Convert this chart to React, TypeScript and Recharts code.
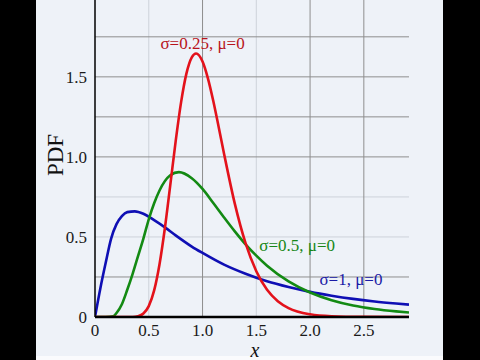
import { LineChart, Line, XAxis, YAxis, ReferenceLine, ReferenceDot } from 'recharts'

const sigma1X = [0, 0.05, 0.1, 0.15, 0.2, 0.25, 0.3, 0.37, 0.45, 0.55, 0.65, 0.75, 0.9, 1.0, 1.2, 1.4, 1.6, 1.8, 2.0, 2.2, 2.4, 2.6, 2.8, 2.92]
const sigma1Pdf = [0, 0.18, 0.34, 0.49, 0.58, 0.63, 0.655, 0.66, 0.645, 0.605, 0.56, 0.51, 0.44, 0.4, 0.327, 0.27, 0.223, 0.187, 0.157, 0.133, 0.113, 0.097, 0.084, 0.077]

const sigma05X = [0, 0.1, 0.17, 0.2, 0.25, 0.3, 0.35, 0.4, 0.45, 0.5, 0.55, 0.6, 0.7, 0.78, 0.9, 1.0, 1.1, 1.2, 1.3, 1.4, 1.5, 1.6, 1.8, 2.0, 2.2, 2.4, 2.6, 2.8, 2.92]
const sigma05Pdf = [0, 0, 0.005, 0.025, 0.08, 0.17, 0.27, 0.38, 0.49, 0.61, 0.71, 0.79, 0.885, 0.905, 0.867, 0.8, 0.712, 0.622, 0.535, 0.454, 0.383, 0.32, 0.222, 0.153, 0.105, 0.072, 0.05, 0.035, 0.028]

const sigma025X = [0, 0.35, 0.4, 0.45, 0.5, 0.55, 0.6, 0.65, 0.7, 0.75, 0.8, 0.85, 0.9, 0.94, 1.0, 1.05, 1.1, 1.15, 1.2, 1.3, 1.4, 1.5, 1.6, 1.7, 1.8, 2.0, 2.2, 2.5, 2.92]
const sigma025Pdf = [0, 0, 0.005, 0.022, 0.068, 0.166, 0.33, 0.556, 0.824, 1.097, 1.339, 1.52, 1.622, 1.646, 1.596, 1.491, 1.349, 1.187, 1.02, 0.708, 0.461, 0.286, 0.17, 0.099, 0.056, 0.017, 0.005, 0.001, 0]

const xTicks = [0, 0.5, 1, 1.5, 2, 2.5]
const yTicks = [0, 0.5, 1, 1.5]
const xGridDark = [1, 2, 2.5]
const xGridLight = [0.5, 1.5]
const yGridDark = [0.25, 1, 1.25, 1.5, 1.75]
const yGridLight = [0.5, 0.75]

const toPoints = (xs: number[], ys: number[]) => xs.map((x, i) => ({ x, y: ys[i] }))

const serif = '"Liberation Serif", "DejaVu Serif", serif'

export default function App() {
  return (
    <div style={{ position: 'fixed', left: 0, top: 0, width: 480, height: 360, background: '#000' }}>
      <div style={{ position: 'absolute', left: 36, top: 0, width: 407, height: 356, background: '#eef2f8' }} />
      <div style={{ position: 'absolute', left: 36, top: 356, width: 407, height: 4, background: '#fafbfd' }} />
      <div style={{ position: 'absolute', left: 0, top: 0 }}>
        <LineChart width={480} height={360} margin={{ top: 0, right: 71, bottom: 0, left: 0 }}>
          <XAxis
            type="number"
            dataKey="x"
            domain={[0, 2.92]}
            ticks={xTicks}
            tickFormatter={(v: number) => (v === 0 ? '0' : v.toFixed(1))}
            tick={{ fontSize: 17, fill: '#1a1a1a', fontFamily: serif, dy: -1 }}
            tickLine={false}
            axisLine={{ stroke: '#000', strokeWidth: 2.5 }}
            height={43}
            allowDataOverflow
            label={{ value: 'x', position: 'insideBottom', offset: 3, fontSize: 20, fontStyle: 'italic', fill: '#111', fontFamily: serif, dx: 3 }}
          />
          <YAxis
            type="number"
            domain={[0, 1.98]}
            ticks={yTicks}
            tickFormatter={(v: number) => (v === 0 ? '0' : v.toFixed(1))}
            tick={{ fontSize: 17, fill: '#1a1a1a', fontFamily: serif }}
            tickLine={false}
            axisLine={{ stroke: '#000', strokeWidth: 1.5 }}
            width={95}
            allowDataOverflow
            label={{
              content: () => (
                <text x={55} y={155} transform="rotate(-90 55 155)" textAnchor="middle" dominantBaseline="central"
                  fontSize={23} fill="#111" fontFamily={serif}>PDF</text>
              ),
            }}
          />
          {xGridLight.map((v) => <ReferenceLine key={'xl' + v} x={v} stroke="#cdd2da" strokeWidth={1} />)}
          {yGridLight.map((v) => <ReferenceLine key={'yl' + v} y={v} stroke="#cdd2da" strokeWidth={1} />)}
          {xGridDark.map((v) => <ReferenceLine key={'xd' + v} x={v} stroke="#8e8e8e" strokeWidth={1} />)}
          {yGridDark.map((v) => <ReferenceLine key={'yd' + v} y={v} stroke="#8e8e8e" strokeWidth={1} />)}
          <Line data={toPoints(sigma1X, sigma1Pdf)} dataKey="y" type="monotone" stroke="#0f0fb4" strokeWidth={2.6} dot={false} isAnimationActive={false} />
          <Line data={toPoints(sigma05X, sigma05Pdf)} dataKey="y" type="monotone" stroke="#138a13" strokeWidth={2.6} dot={false} isAnimationActive={false} />
          <Line data={toPoints(sigma025X, sigma025Pdf)} dataKey="y" type="monotone" stroke="#e3121b" strokeWidth={2.6} dot={false} isAnimationActive={false} />
          <ReferenceDot x={1.0} y={1.71} r={0} fill="none" stroke="none"
            label={{ value: 'σ=0.25, μ=0', position: 'center', fill: '#b8141c', fontSize: 17, fontFamily: serif }} />
          <ReferenceDot x={1.88} y={0.45} r={0} fill="none" stroke="none"
            label={{ value: 'σ=0.5, μ=0', position: 'center', fill: '#178717', fontSize: 17, fontFamily: serif }} />
          <ReferenceDot x={2.38} y={0.24} r={0} fill="none" stroke="none"
            label={{ value: 'σ=1, μ=0', position: 'center', fill: '#1a1aa6', fontSize: 17, fontFamily: serif }} />
        </LineChart>
      </div>
    </div>
  )
}
